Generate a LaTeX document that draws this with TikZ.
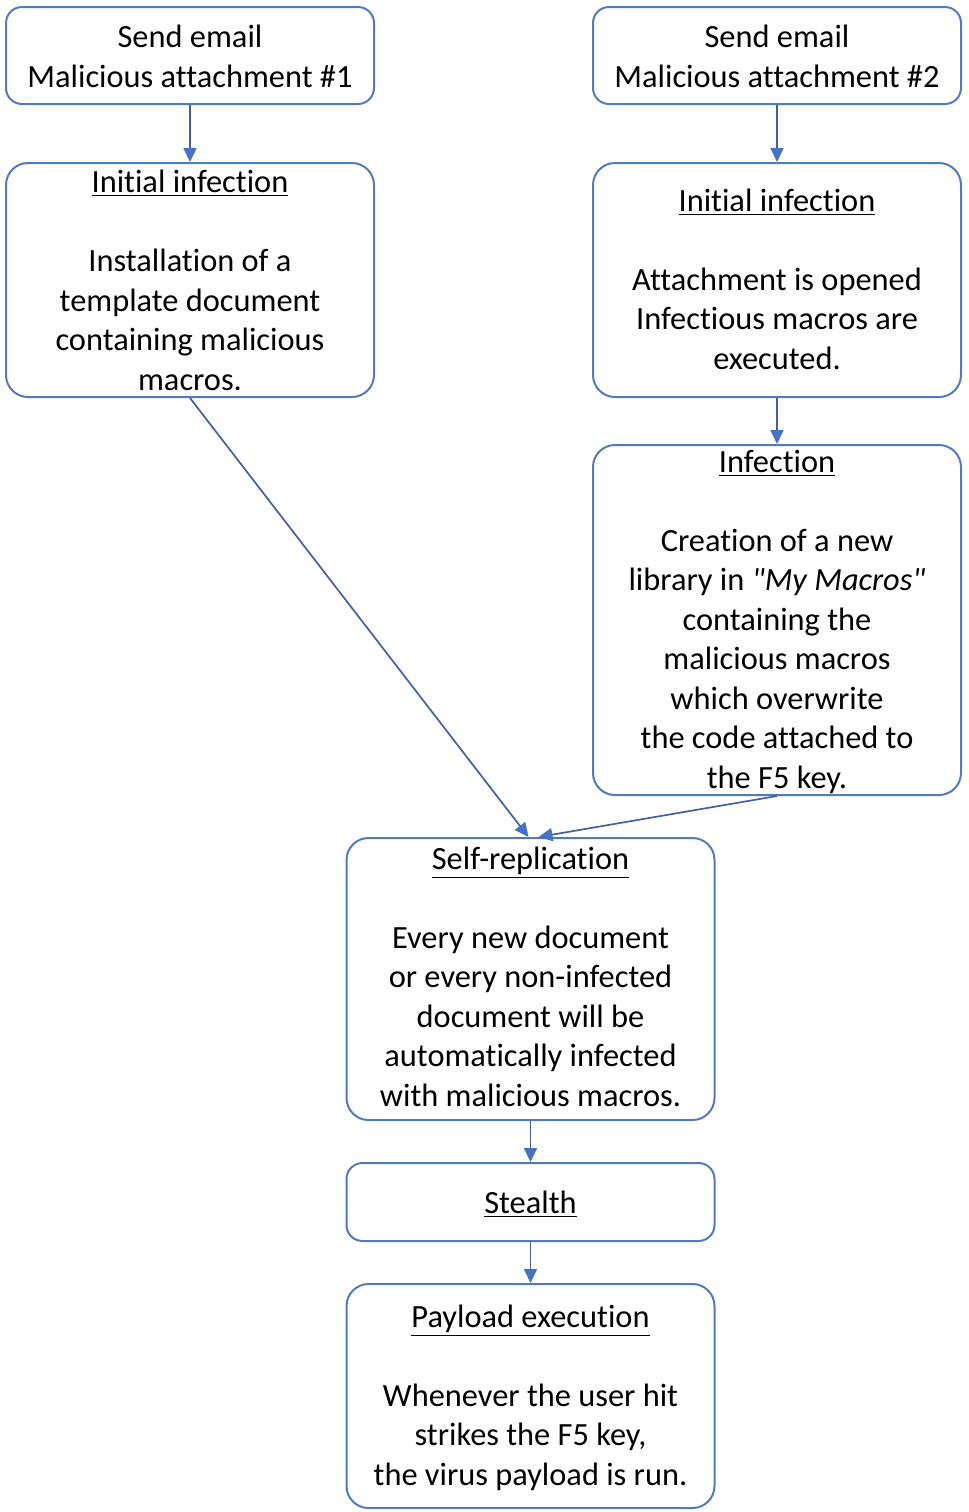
\documentclass[tikz,border=0pt]{standalone}
\usepackage{fontspec}
\setmainfont{Carlito}[Ligatures={TeXOff,NoCommon}]
\usetikzlibrary{arrows.meta,positioning}
\definecolor{boxblue}{RGB}{84,122,190}
\definecolor{lineblue}{RGB}{70,95,160}
\definecolor{tipblue}{RGB}{68,114,196}
\newcommand\boxfont{\fontsize{16.2}{19.75}\selectfont}
\tikzset{
  box/.style={draw=boxblue, line width=1pt, rounded corners=11pt, minimum width=184pt},
  smallbox/.style={box, rounded corners=8pt},
  lbl/.style={anchor=base, align=center, font=\boxfont, inner sep=0pt},
  arr/.style={draw=lineblue, line width=0.85pt, -{Triangle[length=7pt,width=6.5pt,color=tipblue]}}
}

\begin{document}
\begin{tikzpicture}[x=0.5pt,y=-0.5pt]
\useasboundingbox (0,0) rectangle (969,1512);
% boxes
\node[smallbox, minimum height=48.5pt] (mail1) at (190,55.5) {};
\node[smallbox, minimum height=48.5pt] (mail2) at (777,55.5) {};
\node[box, minimum height=117pt] (init1) at (190,280) {};
\node[box, minimum height=117pt] (init2) at (777,280) {};
\node[box, minimum height=175pt] (infect) at (777,620) {};
\node[box, minimum height=141pt] (selfrep) at (530.5,979) {};
\node[smallbox, minimum height=39pt] (stealth) at (530.5,1202) {};
\node[box, minimum height=112pt] (payload) at (530.5,1396) {};
% texts (anchored at the baseline of their last line)
\node[lbl] at (190,87) {Send email\\Malicious attachment \#1};
\node[lbl] at (777,87) {Send email\\Malicious attachment \#2};
\node[lbl] at (190,390) {\underline{Initial infection}\\[19.75pt]Installation of a\\template document\\containing malicious\\macros.};
\node[lbl] at (777,369) {\underline{Initial infection}\\[19.75pt]Attachment is opened\\Infectious macros are\\executed.};
\node[lbl] at (777,788) {\underline{Infection}\\[19.75pt]Creation of a new\\library in \textit{"My Macros"}\\containing the\\malicious macros\\which overwrite\\the code attached to\\the F5 key.};
\node[lbl] at (530.5,1106) {\underline{Self-replication}\\[19.75pt]Every new document\\or every non-infected\\document will be\\automatically infected\\with malicious macros.};
\node[lbl] at (530.5,1213) {\underline{Stealth}};
\node[lbl] at (530.5,1485) {\underline{Payload execution}\\[19.75pt]Whenever the user hit\\strikes the F5 key,\\the virus payload is run.};
% arrows
\draw[arr] (mail1) -- (init1);
\draw[arr] (mail2) -- (init2);
\draw[arr] (init2) -- (infect);
\draw[arr] (init1.south) -- ([xshift=-1pt]selfrep.north);
\draw[arr] (infect.south) -- ([xshift=4pt]selfrep.north);
\draw[arr] (selfrep) -- (stealth);
\draw[arr] (stealth) -- (payload);
\end{tikzpicture}
\end{document}
